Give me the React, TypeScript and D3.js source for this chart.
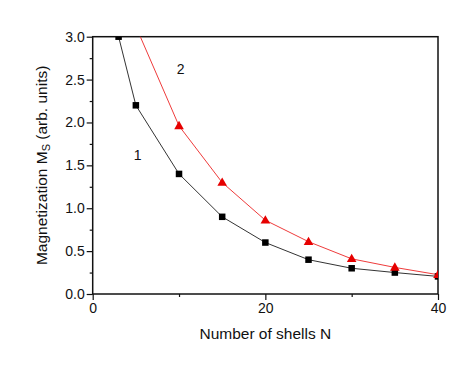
import React, { useEffect, useRef } from 'react';
import * as d3 from 'd3';

// Curve 1 (black squares)
const shellsBlack = [3, 5, 10, 15, 20, 25, 30, 35, 40];
const magBlack = [3.0, 2.2, 1.4, 0.9, 0.6, 0.4, 0.3, 0.25, 0.205];

// Curve 2 (red triangles)
const shellsRed = [5, 10, 15, 20, 25, 30, 35, 40];
const magRed = [3.12, 1.96, 1.3, 0.86, 0.61, 0.41, 0.31, 0.225];

const xMajorTicks = [0, 20, 40];
const xMinorTicks = [10, 30];
const yMajorTicks = [0, 0.5, 1.0, 1.5, 2.0, 2.5, 3.0];
const yMinorTicks = [0.25, 0.75, 1.25, 1.75, 2.25, 2.75];

const curveLabels = [
  { text: '1', n: 5.2, m: 1.56 },
  { text: '2', n: 10.2, m: 2.56 },
];

const W = 474;
const H = 370;
const margin = { top: 36.7, right: 36, bottom: 76, left: 92.7 };
const FONT = 'Arial, "Liberation Sans", Helvetica, sans-serif';

const App: React.FC = () => {
  const svgRef = useRef<SVGSVGElement>(null);

  useEffect(() => {
    if (!svgRef.current) return;
    const svg = d3.select(svgRef.current);
    svg.selectAll('*').remove();

    const x = d3.scaleLinear().domain([0, 40]).range([margin.left, W - margin.right]);
    const y = d3.scaleLinear().domain([0, 3]).range([H - margin.bottom, margin.top]);
    const x0 = x.range()[0];
    const x1 = x.range()[1];
    const y0 = y.range()[0];
    const y1 = y.range()[1];

    svg.append('rect').attr('width', W).attr('height', H).attr('fill', '#fff');

    svg
      .append('defs')
      .append('clipPath')
      .attr('id', 'plot-clip')
      .append('rect')
      .attr('x', x0)
      .attr('y', y1)
      .attr('width', x1 - x0)
      .attr('height', y0 - y1);

    // Axes with outward ticks
    const xAxis = svg.append('g').attr('transform', `translate(0,${y0})`);
    xAxis.call(
      d3.axisBottom(x).tickValues(xMajorTicks).tickSize(6).tickSizeOuter(0).tickPadding(3).tickFormat(d3.format('d'))
    );
    const xMinor = svg.append('g').attr('transform', `translate(0,${y0})`);
    xMinor.call(d3.axisBottom(x).tickValues(xMinorTicks).tickSize(3).tickSizeOuter(0).tickFormat(() => ''));

    const yAxis = svg.append('g').attr('transform', `translate(${x0},0)`);
    yAxis.call(
      d3.axisLeft(y).tickValues(yMajorTicks).tickSize(6).tickSizeOuter(0).tickPadding(2).tickFormat(d3.format('.1f'))
    );
    const yMinor = svg.append('g').attr('transform', `translate(${x0},0)`);
    yMinor.call(d3.axisLeft(y).tickValues(yMinorTicks).tickSize(3).tickSizeOuter(0).tickFormat(() => ''));

    svg.selectAll('.domain').remove();
    svg.selectAll('.tick line').attr('stroke', '#111').attr('stroke-width', 1.2);
    svg
      .selectAll('.tick text')
      .attr('font-family', FONT)
      .attr('font-size', 14)
      .attr('fill', '#111');

    // Frame
    svg
      .append('rect')
      .attr('x', x0)
      .attr('y', y1)
      .attr('width', x1 - x0)
      .attr('height', y0 - y1)
      .attr('fill', 'none')
      .attr('stroke', '#111')
      .attr('stroke-width', 1.5);

    const plot = svg.append('g').attr('clip-path', 'url(#plot-clip)');

    const blackData = shellsBlack.map((n, i) => [n, magBlack[i]] as [number, number]);
    const redData = shellsRed.map((n, i) => [n, magRed[i]] as [number, number]);

    const line = d3
      .line<[number, number]>()
      .x((d) => x(d[0]))
      .y((d) => y(d[1]));

    plot
      .append('path')
      .datum(redData)
      .attr('fill', 'none')
      .attr('stroke', '#ee3b3b')
      .attr('stroke-width', 1)
      .attr('d', line);

    plot
      .append('path')
      .datum(blackData)
      .attr('fill', 'none')
      .attr('stroke', '#333')
      .attr('stroke-width', 1)
      .attr('d', line);

    const sq = 6.5;
    plot
      .selectAll('.sq')
      .data(blackData)
      .enter()
      .append('rect')
      .attr('x', (d) => x(d[0]) - sq / 2)
      .attr('y', (d) => y(d[1]) - sq / 2)
      .attr('width', sq)
      .attr('height', sq)
      .attr('fill', '#000');

    const tri = d3.symbol().type(d3.symbolTriangle).size(40);
    plot
      .selectAll('.tri')
      .data(redData)
      .enter()
      .append('path')
      .attr('transform', (d) => `translate(${x(d[0])},${y(d[1]) + 0.5})`)
      .attr('d', tri)
      .attr('fill', '#e60000');

    // Curve labels
    svg
      .selectAll('.clabel')
      .data(curveLabels)
      .enter()
      .append('text')
      .attr('x', (d) => x(d.n))
      .attr('y', (d) => y(d.m))
      .attr('text-anchor', 'middle')
      .attr('font-family', FONT)
      .attr('font-size', 14)
      .attr('fill', '#111')
      .text((d) => d.text);

    // Axis titles
    svg
      .append('text')
      .attr('x', (x0 + x1) / 2)
      .attr('y', 339)
      .attr('text-anchor', 'middle')
      .attr('font-family', FONT)
      .attr('font-size', 15.5)
      .attr('fill', '#111')
      .text('Number of shells N');

    const yt = svg
      .append('text')
      .attr('transform', `translate(47,${(y0 + y1) / 2}) rotate(-90)`)
      .attr('text-anchor', 'middle')
      .attr('font-family', FONT)
      .attr('font-size', 15.5)
      .attr('fill', '#111');
    yt.append('tspan').text('Magnetization M');
    yt.append('tspan').attr('font-size', 11).attr('dy', 3).text('S');
    yt.append('tspan').attr('dy', -3).text(' (arb. units)');
  }, []);

  return (
    <div style={{ position: 'absolute', left: 0, top: 0 }}>
      <svg ref={svgRef} width={W} height={H} />
    </div>
  );
};

export default App;
